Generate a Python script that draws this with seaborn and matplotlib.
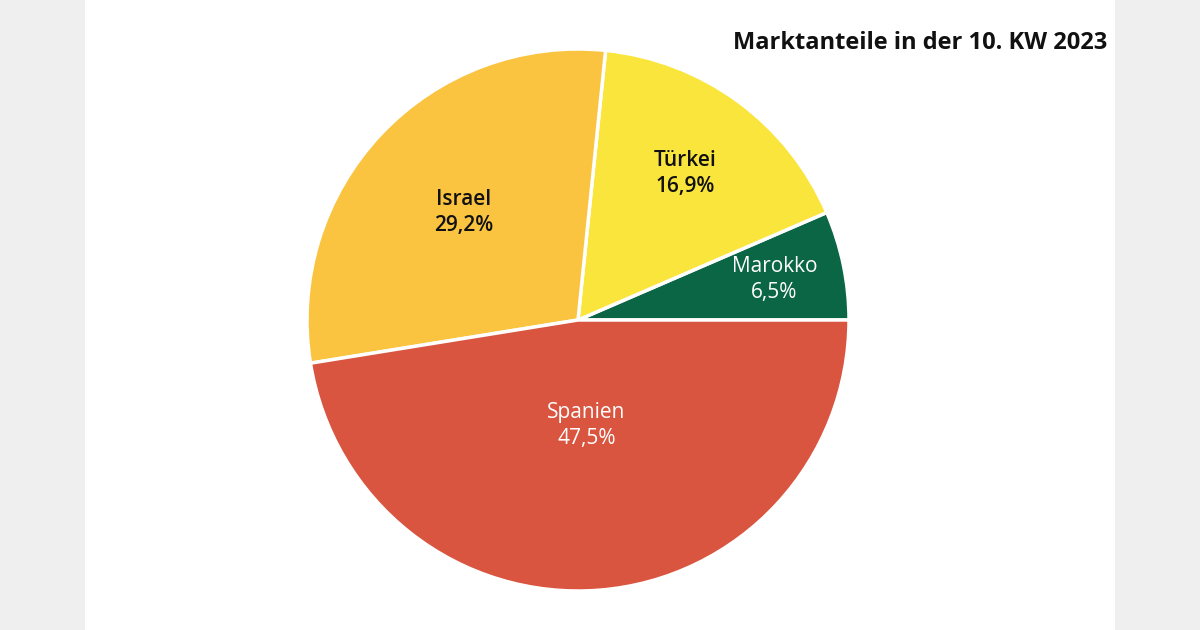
import numpy as np
import matplotlib.pyplot as plt
import seaborn as sns

sns.set_theme(style="white")
plt.rcParams['font.family'] = ['Open Sans', 'DejaVu Sans']

countries = ["Marokko", "Türkei", "Israel", "Spanien"]
shares = [6.5, 16.9, 29.2, 47.5]
colors = ["#0b6645", "#f9e53c", "#fbc440", "#d9553f"]
text_colors = ["white", "#111111", "#111111", "white"]
label_radius = [0.74, 0.67, 0.58, 0.39]

fig = plt.figure(figsize=(12, 6.3), dpi=100, facecolor="#efefef")
bg = fig.add_axes([85 / 1200, 0, 1030 / 1200, 1], zorder=-1)
bg.set_facecolor("white")
bg.axis("off")
bg.add_patch(plt.Rectangle((0, 0), 1, 1, transform=bg.transAxes, facecolor="white",
                           edgecolor="none"))

cx, cy, r = 578, 630 - 320, 271
ax = fig.add_axes([(cx - r) / 1200, (cy - r) / 630, 2 * r / 1200, 2 * r / 630])
ax.set_facecolor("none")
wedges, _ = ax.pie(shares, colors=colors, startangle=0, counterclock=True, radius=1,
                   wedgeprops={"edgecolor": "white", "linewidth": 2.5})
ax.set_xlim(-1, 1)
ax.set_ylim(-1, 1)
ax.axis("off")

for w, name, val, tc, lr in zip(wedges, countries, shares, text_colors, label_radius):
    ang = np.deg2rad((w.theta1 + w.theta2) / 2)
    weight = "semibold" if tc != "white" else "normal"
    ax.text(lr * np.cos(ang), lr * np.sin(ang), f"{name}\n{val:.1f}%".replace(".", ","),
            ha="center", va="center", color=tc, fontsize=15, fontweight=weight,
            linespacing=1.3)

fig.text(1107 / 1200, 1 - 43 / 630, "Marktanteile in der 10. KW 2023", ha="right",
         va="center", fontsize=17, fontweight="bold", color="#111111")

fig.savefig("out.png", dpi=100, facecolor=fig.get_facecolor())
